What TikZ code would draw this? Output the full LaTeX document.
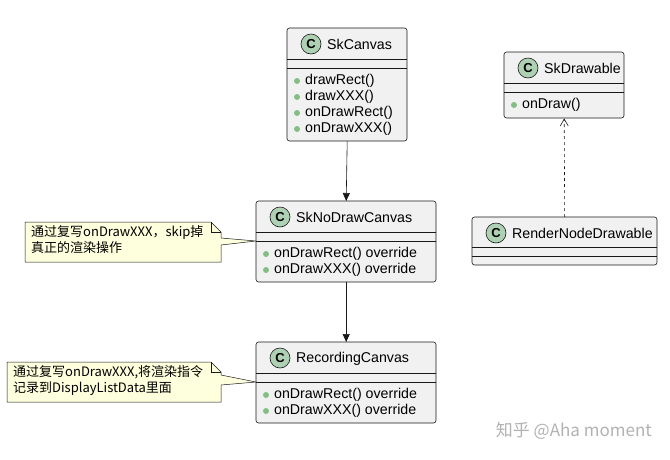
\documentclass[tikz,border=0pt]{standalone}
\usepackage{fontspec}
\setmainfont{Liberation Sans}
\newfontfamily\cjk{Noto Sans CJK SC}
\usetikzlibrary{arrows.meta}
\definecolor{boxfill}{HTML}{F1F1F1}
\definecolor{boxline}{HTML}{181818}
\definecolor{cfill}{HTML}{ADD1B2}
\definecolor{dotc}{HTML}{84BE84}
\definecolor{notefill}{HTML}{FEFFDD}
\tikzset{
  box/.style={draw=boxline,fill=boxfill,rounded corners=2.5pt,line width=0.6pt},
  sep/.style={draw=boxline,line width=0.6pt},
  txt/.style={inner sep=0pt,anchor=west,font=\fontsize{14.2}{14}\selectfont},
  note/.style={draw=boxline,fill=notefill,line width=0.5pt},
  ntxt/.style={inner sep=0pt,anchor=north west,align=left,font=\cjk\fontsize{13}{16}\selectfont},
  link/.style={draw=boxline,line width=0.6pt},
}
% name, left, top, right, bottom, header bottom, title, methods
\newcommand{\umlcls}[8]{%
  \path[box] (#2,#3) rectangle (#4,#5);
  \node[inner sep=0pt,minimum width=#4-#2,minimum height=#5-#3,anchor=north west] (#1) at (#2,#3) {};
  \draw[sep] (#2,#6) -- (#4,#6);
  \draw[sep] (#2,#6+9) -- (#4,#6+9);
  \node[circle,draw=boxline,fill=cfill,minimum size=20pt,inner sep=0pt,line width=0.6pt,
        font=\fontsize{13}{13}\selectfont\bfseries] (#1-c) at (#2+24,#3+16) {C};
  \node[txt] (#1-t) at (#2+40,#3+16.5) {#7};
  \foreach \m [count=\i] in {#8} {
    \fill[dotc] (#2+10,#6+9+13+16*\i-16) circle (3pt);
    \node[txt] at (#2+18,#6+9+13+16*\i-16) {\m};
  }
}
\begin{document}
\begin{tikzpicture}[x=1pt,y=-1pt]
\path[use as bounding box,fill=white] (0,0) rectangle (670,459);
\umlcls{skc}{287}{28}{407}{141}{59}{SkCanvas}{drawRect(),drawXXX(),onDrawRect(),onDrawXXX()}
\umlcls{skd}{504}{52}{624}{118}{83}{SkDrawable}{onDraw()}
\umlcls{skn}{256}{201}{436}{282}{232}{SkNoDrawCanvas}{onDrawRect() override,onDrawXXX() override}
\umlcls{rnd}{472}{217}{657}{265}{247}{RenderNodeDrawable}{}
\umlcls{rec}{256}{342}{436}{423}{373}{RecordingCanvas}{onDrawRect() override,onDrawXXX() override}
% arrows
\draw[link,-{Triangle[length=8pt,width=7pt]}] (skc.south) -- (skn.north);
\draw[link,-{Triangle[length=8pt,width=7pt]}] (skn.south) -- (rec.north);
\draw[link,dashed,dash pattern=on 3pt off 3pt,-{Straight Barb[length=7pt,width=8pt]}] (rnd.north) -- (skd.south);
% notes
\coordinate (t1) at (256,241);
\path[note] (25,222) -- (211,222) -- (221,232) -- (221,238) -- (t1) -- (221,245) -- (221,262) -- (25,262) -- cycle;
\draw[note,fill=none] (211,222) -- (211,232) -- (221,232);
\node[ntxt] (n1) at (31,225) {通过复写onDrawXXX，skip掉\\真正的渲染操作};
\coordinate (t2) at (256,382);
\path[note] (7,362) -- (211,362) -- (221,372) -- (221,375) -- (t2) -- (221,385) -- (221,402) -- (7,402) -- cycle;
\draw[note,fill=none] (211,362) -- (211,372) -- (221,372);
\node[ntxt] (n2) at (13,365) {通过复写onDrawXXX,将渲染指令\\记录到DisplayListData里面};
\node[inner sep=0pt,anchor=east,text=black!30,font=\cjk\fontsize{17}{17}\selectfont] (wm) at (652,431) {知乎 @Aha moment};
\end{tikzpicture}
\end{document}
